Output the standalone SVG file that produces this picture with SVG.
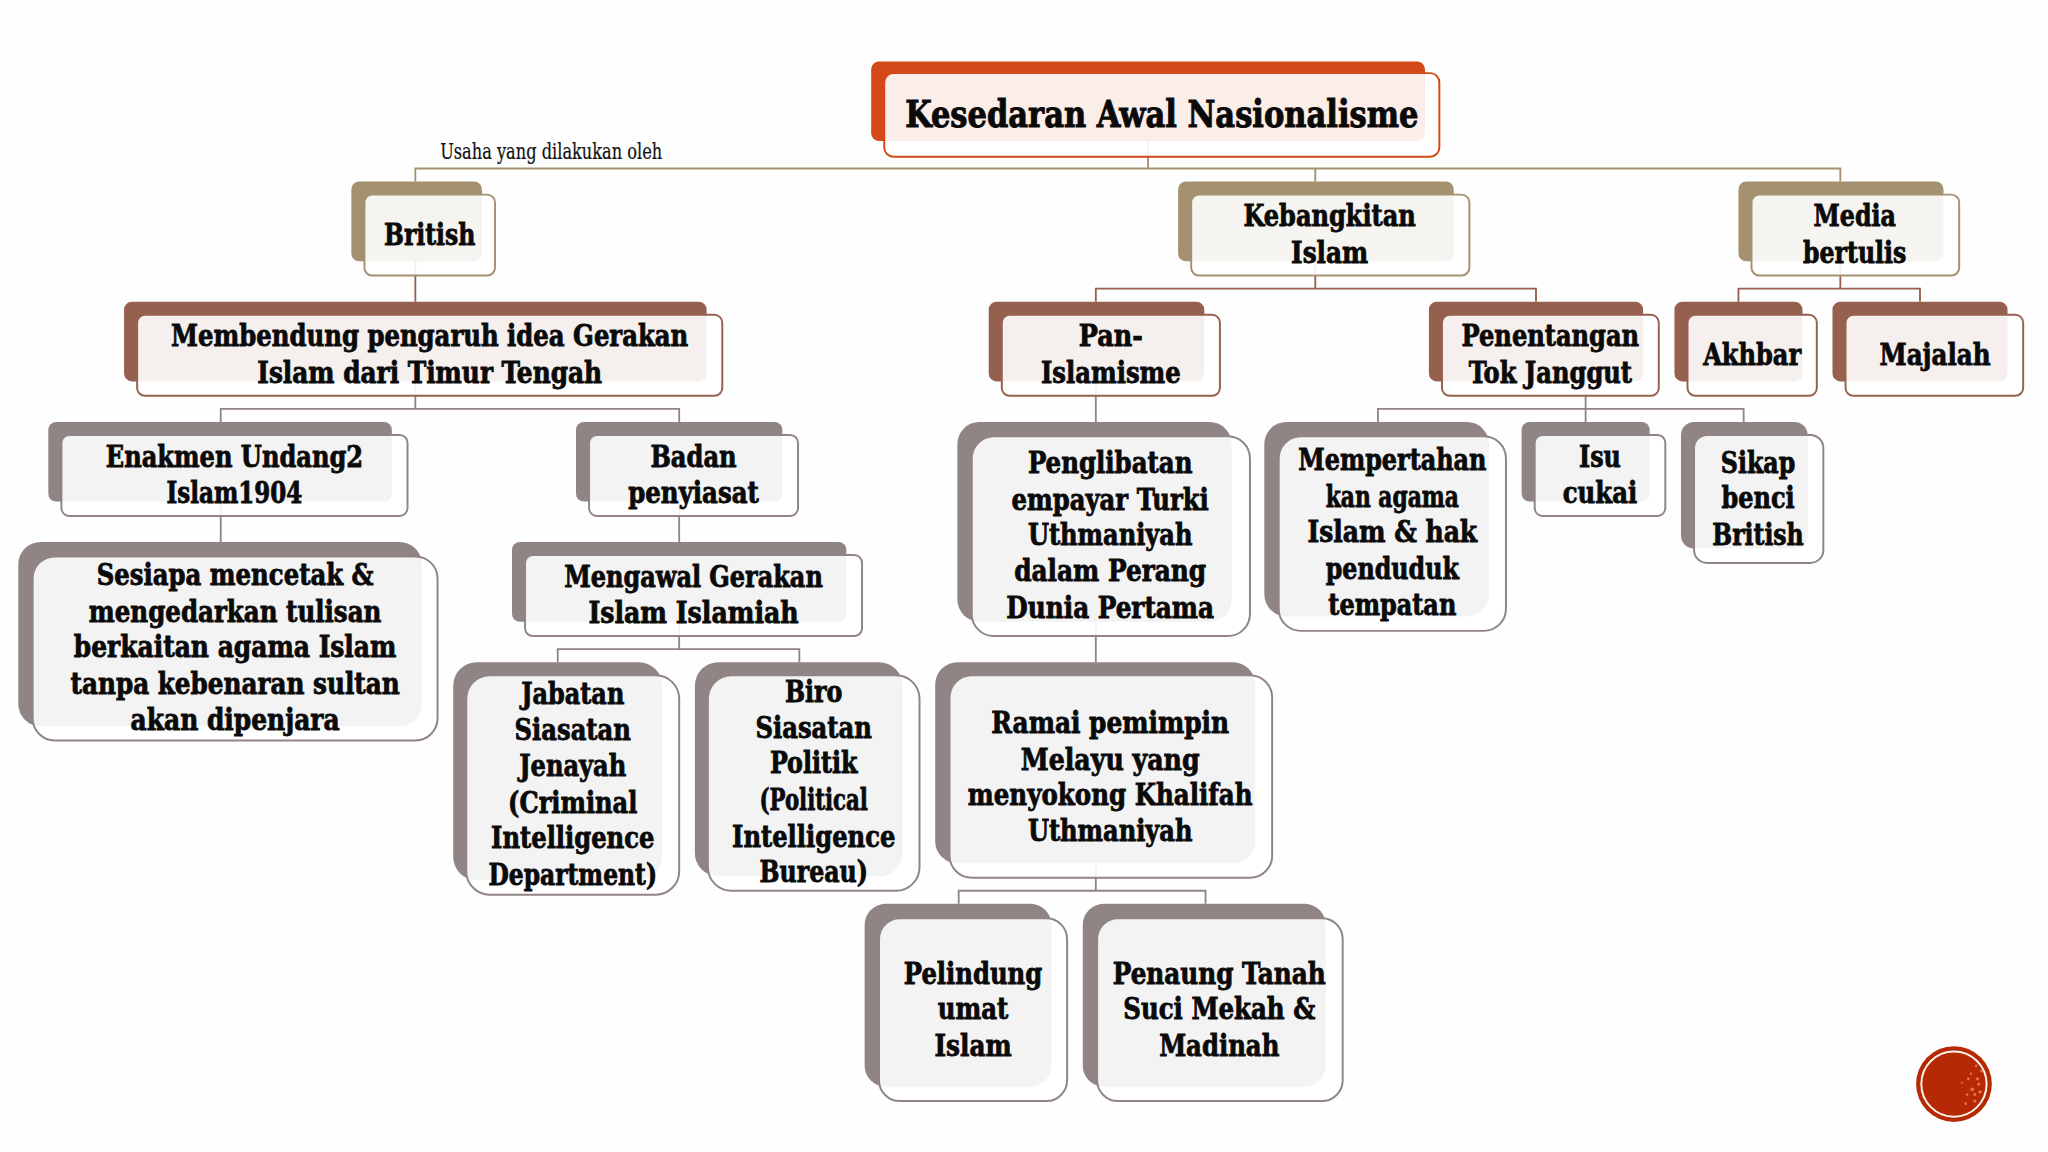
<svg xmlns="http://www.w3.org/2000/svg" width="2048" height="1152" viewBox="0 0 2048 1152">
<style>
.t{font-family:"DejaVu Serif",serif;font-weight:700;font-stretch:condensed;font-size:23px;fill:#0a0a0a;stroke:#0a0a0a;stroke-width:.6;text-anchor:middle;transform:translateY(-.8px)}
.title{font-size:29px;stroke-width:.7}
.note{font-family:"DejaVu Serif",serif;font-stretch:condensed;font-size:17px;fill:#111;stroke:#111;stroke-width:.15;text-anchor:middle}
.f{fill:#fff;fill-opacity:.9;stroke-width:1.5}
.orange .b{fill:#d34817}.orange .f{stroke:#d34817}
.tan .b{fill:#a39170}.tan .f{stroke:#a39170}
.brown .b{fill:#96604f}.brown .f{stroke:#96604f}
.grey .b{fill:#918485}.grey .f{stroke:#918485}
.c{fill:none;stroke-width:1.4}
.ctan{stroke:#a39170}.cbrown{stroke:#96604f}.cgrey{stroke:#918485}
</style>
<rect width="2048" height="1152" fill="#fefefe"/>
<g transform="scale(1.30612)">
<g id="connectors">
<path class="c ctan" d="M879 108V129M318 139V129H1409V139M1007 129V139"/>
<path class="c cbrown" d="M318 200V231M1007 200V221M839 231V221H1176V231M1409 200V221M1331 231V221H1470V231"/>
<path class="c cgrey" d="M318 292V313M169 323V313H520V323M169 384V415M520 384V415M520 476V497M427 507V497H612V507M839 292V323M839 476V507M839 661V682M734 692V682H923V692M1214 292V313M1055 323V313H1335V323M1214 313V323"/>
</g>
<g id="n-title" class="orange"><rect class="b" x="667" y="47" width="424" height="61" rx="6"/><rect class="f" x="677" y="56" width="425" height="64" rx="7"/><text class="t title" x="889.500" y="98" textLength="393" lengthAdjust="spacingAndGlyphs">Kesedaran Awal Nasionalisme</text></g>
<text class="note" x="422" y="122" textLength="170" lengthAdjust="spacingAndGlyphs">Usaha yang dilakukan oleh</text>
<g id="n-british" class="tan"><rect class="b" x="269" y="139" width="100" height="61" rx="6"/><rect class="f" x="279" y="149" width="100" height="62" rx="6"/><text class="t" x="329" y="188" textLength="70" lengthAdjust="spacingAndGlyphs">British</text></g>
<g id="n-kebangkitan" class="tan"><rect class="b" x="902" y="139" width="211" height="61" rx="6"/><rect class="f" x="912" y="149" width="213" height="62" rx="6"/><text class="t" x="1018" y="174" textLength="132" lengthAdjust="spacingAndGlyphs">Kebangkitan</text><text class="t" x="1018" y="202" textLength="59" lengthAdjust="spacingAndGlyphs">Islam</text></g>
<g id="n-media" class="tan"><rect class="b" x="1331" y="139" width="157" height="61" rx="6"/><rect class="f" x="1341" y="149" width="159" height="62" rx="6"/><text class="t" x="1420" y="174" textLength="63" lengthAdjust="spacingAndGlyphs">Media</text><text class="t" x="1420" y="202" textLength="79" lengthAdjust="spacingAndGlyphs">bertulis</text></g>
<g id="n-membendung" class="brown"><rect class="b" x="95" y="231" width="446" height="61" rx="6"/><rect class="f" x="105" y="241" width="448" height="62" rx="6"/><text class="t" x="329" y="266" textLength="396" lengthAdjust="spacingAndGlyphs">Membendung pengaruh idea Gerakan</text><text class="t" x="329" y="294" textLength="264" lengthAdjust="spacingAndGlyphs">Islam dari Timur Tengah</text></g>
<g id="n-pan" class="brown"><rect class="b" x="757" y="231" width="165" height="61" rx="6"/><rect class="f" x="767" y="241" width="167" height="62" rx="6"/><text class="t" x="850.500" y="266" textLength="49" lengthAdjust="spacingAndGlyphs">Pan-</text><text class="t" x="850.500" y="294" textLength="107" lengthAdjust="spacingAndGlyphs">Islamisme</text></g>
<g id="n-penentangan" class="brown"><rect class="b" x="1094" y="231" width="164" height="61" rx="6"/><rect class="f" x="1104" y="241" width="166" height="62" rx="6"/><text class="t" x="1187" y="266" textLength="136" lengthAdjust="spacingAndGlyphs">Penentangan</text><text class="t" x="1187" y="294" textLength="125" lengthAdjust="spacingAndGlyphs">Tok Janggut</text></g>
<g id="n-akhbar" class="brown"><rect class="b" x="1282" y="231" width="98" height="61" rx="6"/><rect class="f" x="1292" y="241" width="99" height="62" rx="6"/><text class="t" x="1341.500" y="280" textLength="75" lengthAdjust="spacingAndGlyphs">Akhbar</text></g>
<g id="n-majalah" class="brown"><rect class="b" x="1403" y="231" width="134" height="61" rx="6"/><rect class="f" x="1413" y="241" width="136" height="62" rx="6"/><text class="t" x="1481.500" y="280" textLength="85" lengthAdjust="spacingAndGlyphs">Majalah</text></g>
<g id="n-enakmen" class="grey"><rect class="b" x="37" y="323" width="263" height="61" rx="6"/><rect class="f" x="47" y="333" width="265" height="62" rx="6"/><text class="t" x="179.500" y="358" textLength="197" lengthAdjust="spacingAndGlyphs">Enakmen Undang2</text><text class="t" x="179.500" y="386" textLength="104" lengthAdjust="spacingAndGlyphs">Islam1904</text></g>
<g id="n-badan" class="grey"><rect class="b" x="441" y="323" width="158" height="61" rx="6"/><rect class="f" x="451" y="333" width="160" height="62" rx="6"/><text class="t" x="531" y="358" textLength="66" lengthAdjust="spacingAndGlyphs">Badan</text><text class="t" x="531" y="386" textLength="100" lengthAdjust="spacingAndGlyphs">penyiasat</text></g>
<g id="n-penglibatan" class="grey"><rect class="b" x="733" y="323" width="210" height="153" rx="17"/><rect class="f" x="744" y="334" width="213" height="153" rx="17"/><text class="t" x="850" y="363" textLength="126" lengthAdjust="spacingAndGlyphs">Penglibatan</text><text class="t" x="850" y="391" textLength="151" lengthAdjust="spacingAndGlyphs">empayar Turki</text><text class="t" x="850" y="418" textLength="126" lengthAdjust="spacingAndGlyphs">Uthmaniyah</text><text class="t" x="850" y="446" textLength="147" lengthAdjust="spacingAndGlyphs">dalam Perang</text><text class="t" x="850" y="474" textLength="159" lengthAdjust="spacingAndGlyphs">Dunia Pertama</text></g>
<g id="n-mempertahan" class="grey"><rect class="b" x="968" y="323" width="172" height="149" rx="17"/><rect class="f" x="979" y="334" width="174" height="149" rx="17"/><text class="t" x="1066" y="361" textLength="144" lengthAdjust="spacingAndGlyphs">Mempertahan</text><text class="t" x="1066" y="389" textLength="102" lengthAdjust="spacingAndGlyphs">kan agama</text><text class="t" x="1066" y="416" textLength="130" lengthAdjust="spacingAndGlyphs">Islam &amp; hak</text><text class="t" x="1066" y="444" textLength="102" lengthAdjust="spacingAndGlyphs">penduduk</text><text class="t" x="1066" y="472" textLength="98" lengthAdjust="spacingAndGlyphs">tempatan</text></g>
<g id="n-isu" class="grey"><rect class="b" x="1165" y="323" width="98" height="61" rx="6"/><rect class="f" x="1175" y="333" width="100" height="62" rx="6"/><text class="t" x="1225" y="358" textLength="32" lengthAdjust="spacingAndGlyphs">Isu</text><text class="t" x="1225" y="386" textLength="57" lengthAdjust="spacingAndGlyphs">cukai</text></g>
<g id="n-sikap" class="grey"><rect class="b" x="1287" y="323" width="97" height="97" rx="10"/><rect class="f" x="1297" y="333" width="99" height="98" rx="10"/><text class="t" x="1346" y="363" textLength="57" lengthAdjust="spacingAndGlyphs">Sikap</text><text class="t" x="1346" y="390" textLength="56" lengthAdjust="spacingAndGlyphs">benci</text><text class="t" x="1346" y="418" textLength="70" lengthAdjust="spacingAndGlyphs">British</text></g>
<g id="n-sesiapa" class="grey"><rect class="b" x="14" y="415" width="309" height="141" rx="17"/><rect class="f" x="25" y="426" width="310" height="141" rx="17"/><text class="t" x="180" y="449" textLength="212" lengthAdjust="spacingAndGlyphs">Sesiapa mencetak &amp;</text><text class="t" x="180" y="477" textLength="224" lengthAdjust="spacingAndGlyphs">mengedarkan tulisan</text><text class="t" x="180" y="504" textLength="247" lengthAdjust="spacingAndGlyphs">berkaitan agama Islam</text><text class="t" x="180" y="532" textLength="252" lengthAdjust="spacingAndGlyphs">tanpa kebenaran sultan</text><text class="t" x="180" y="560" textLength="160" lengthAdjust="spacingAndGlyphs">akan dipenjara</text></g>
<g id="n-mengawal" class="grey"><rect class="b" x="392" y="415" width="256" height="61" rx="6"/><rect class="f" x="402" y="425" width="258" height="62" rx="6"/><text class="t" x="531" y="450" textLength="198" lengthAdjust="spacingAndGlyphs">Mengawal Gerakan</text><text class="t" x="531" y="478" textLength="161" lengthAdjust="spacingAndGlyphs">Islam Islamiah</text></g>
<g id="n-jabatan" class="grey"><rect class="b" x="347" y="507" width="160" height="167" rx="18"/><rect class="f" x="357" y="517" width="163" height="168" rx="18"/><text class="t" x="438.500" y="540" textLength="79" lengthAdjust="spacingAndGlyphs">Jabatan</text><text class="t" x="438.500" y="567" textLength="89" lengthAdjust="spacingAndGlyphs">Siasatan</text><text class="t" x="438.500" y="595" textLength="82" lengthAdjust="spacingAndGlyphs">Jenayah</text><text class="t" x="438.500" y="623" textLength="99" lengthAdjust="spacingAndGlyphs">(Criminal</text><text class="t" x="438.500" y="650" textLength="125" lengthAdjust="spacingAndGlyphs">Intelligence</text><text class="t" x="438.500" y="678" textLength="129" lengthAdjust="spacingAndGlyphs">Department)</text></g>
<g id="n-biro" class="grey"><rect class="b" x="532" y="507" width="159" height="164" rx="18"/><rect class="f" x="542" y="517" width="162" height="165" rx="18"/><text class="t" x="623" y="538" textLength="44" lengthAdjust="spacingAndGlyphs">Biro</text><text class="t" x="623" y="566" textLength="89" lengthAdjust="spacingAndGlyphs">Siasatan</text><text class="t" x="623" y="593" textLength="67" lengthAdjust="spacingAndGlyphs">Politik</text><text class="t" x="623" y="621" textLength="83" lengthAdjust="spacingAndGlyphs">(Political</text><text class="t" x="623" y="649" textLength="125" lengthAdjust="spacingAndGlyphs">Intelligence</text><text class="t" x="623" y="676" textLength="83" lengthAdjust="spacingAndGlyphs">Bureau)</text></g>
<g id="n-ramai" class="grey"><rect class="b" x="716" y="507" width="245" height="154" rx="17"/><rect class="f" x="727" y="517" width="247" height="155" rx="17"/><text class="t" x="850" y="562" textLength="182" lengthAdjust="spacingAndGlyphs">Ramai pemimpin</text><text class="t" x="850" y="590" textLength="137" lengthAdjust="spacingAndGlyphs">Melayu yang</text><text class="t" x="850" y="617" textLength="218" lengthAdjust="spacingAndGlyphs">menyokong Khalifah</text><text class="t" x="850" y="645" textLength="126" lengthAdjust="spacingAndGlyphs">Uthmaniyah</text></g>
<g id="n-pelindung" class="grey"><rect class="b" x="662" y="692" width="143" height="140" rx="16"/><rect class="f" x="673" y="703" width="144" height="140" rx="16"/><text class="t" x="745" y="754" textLength="106" lengthAdjust="spacingAndGlyphs">Pelindung</text><text class="t" x="745" y="781" textLength="54" lengthAdjust="spacingAndGlyphs">umat</text><text class="t" x="745" y="809" textLength="59" lengthAdjust="spacingAndGlyphs">Islam</text></g>
<g id="n-penaung" class="grey"><rect class="b" x="829" y="692" width="186" height="140" rx="16"/><rect class="f" x="840" y="703" width="188" height="140" rx="16"/><text class="t" x="933.500" y="754" textLength="163" lengthAdjust="spacingAndGlyphs">Penaung Tanah</text><text class="t" x="933.500" y="781" textLength="147" lengthAdjust="spacingAndGlyphs">Suci Mekah &amp;</text><text class="t" x="933.500" y="809" textLength="92" lengthAdjust="spacingAndGlyphs">Madinah</text></g>
<g id="badge"><circle cx="1496" cy="830" r="29" fill="#b52a05"/><circle cx="1496" cy="830" r="25" fill="none" stroke="#fdf3ee" stroke-width="1.500"/><g fill="#e8764a"><circle cx="1514" cy="826" r="1.300"/><circle cx="1510" cy="834" r="1.400"/><circle cx="1516" cy="836" r="1.300"/><circle cx="1507" cy="826" r="1"/><circle cx="1512" cy="843" r="1.200"/><circle cx="1505" cy="845" r="1"/><circle cx="1517" cy="820" r="1"/><circle cx="1513" cy="816" r=".9"/><circle cx="1506" cy="838" r="1"/><circle cx="1502" cy="829" r=".8"/><circle cx="1515" cy="830" r="1.200"/><circle cx="1509" cy="822" r=".9"/><circle cx="1512" cy="838" r="1.100"/></g></g>
</g>
</svg>
